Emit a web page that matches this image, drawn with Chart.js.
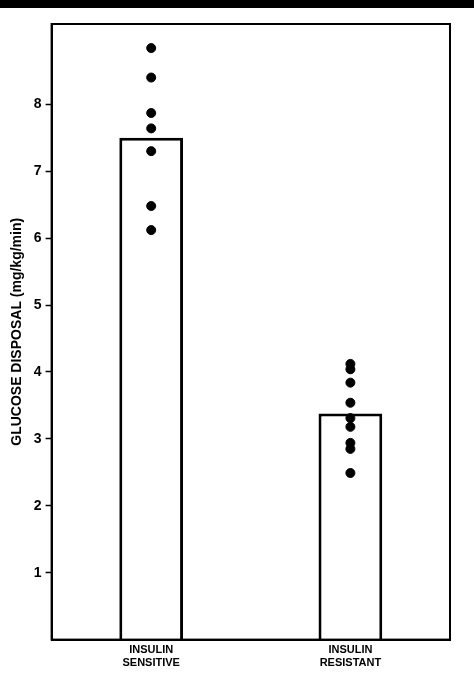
<!DOCTYPE html>
<html>
<head>
<meta charset="utf-8">
<script src="https://cdn.jsdelivr.net/npm/chart.js@4.4.0/dist/chart.umd.min.js"></script>
<style>
  body { margin: 0; background: #fff; }
  #band { position: absolute; left: 0; top: 0; width: 474px; height: 8px; background: #000; }
  #wrap { width: 474px; height: 676px; }
</style>
</head>
<body>
<div id="band"></div>
<div id="wrap"><canvas id="c"></canvas></div>
<script>
// data
const groups = ["INSULIN SENSITIVE", "INSULIN RESISTANT"];
const means = [7.5, 3.38];
const sensitivePts = [8.84, 8.40, 7.87, 7.64, 7.30, 6.48, 6.12];
const resistantPts = [4.12, 4.04, 3.84, 3.54, 3.31, 3.18, 2.94, 2.85, 2.49];
const yTicks = [1, 2, 3, 4, 5, 6, 7, 8];

// box around the plot area (top & right sides)
const frame = {
  id: "frame",
  afterDraw(chart) {
    const a = chart.chartArea, c = chart.ctx;
    c.save();
    c.strokeStyle = "#000";
    c.lineWidth = 2;
    c.strokeRect(a.left, a.top, a.right - a.left, a.bottom - a.top);
    c.restore();
  }
};

const pts = sensitivePts.map(v => ({x: groups[0], y: v}))
  .concat(resistantPts.map(v => ({x: groups[1], y: v})));

new Chart(document.getElementById("c"), {
  data: {
    labels: groups,
    datasets: [
      {
        type: "scatter",
        data: pts,
        backgroundColor: "#000",
        borderColor: "#000",
        pointRadius: 4.5,
        order: 0
      },
      {
        type: "bar",
        data: means,
        backgroundColor: "#fff",
        borderColor: "#000",
        borderWidth: 3,
        barPercentage: 0.32,
        categoryPercentage: 1,
        order: 1
      }
    ]
  },
  options: {
    responsive: true,
    maintainAspectRatio: false,
    animation: false,
    layout: { padding: { top: 24, right: 24, bottom: 2, left: 5 } },
    plugins: { legend: { display: false }, tooltip: { enabled: false } },
    scales: {
      x: {
        type: "category",
        offset: true,
        grid: { display: false, drawTicks: false },
        border: { color: "#000", width: 2 },
        ticks: {
          color: "#000", padding: 4,
          font: { family: "Liberation Sans", size: 11, weight: "bold" },
          callback(v) { return this.getLabelForValue(v).split(" "); }
        }
      },
      y: {
        min: 0,
        max: 9.2,
        afterBuildTicks(axis) { axis.ticks = yTicks.map(v => ({value: v})); },
        grid: { display: true, drawOnChartArea: false, drawTicks: true, tickLength: 6, tickColor: "#000", tickWidth: 1.5 },
        border: { color: "#000", width: 2 },
        ticks: { color: "#000", padding: 4, font: { family: "Liberation Sans", size: 14, weight: "bold" } },
        title: {
          display: true,
          text: "GLUCOSE DISPOSAL (mg/kg/min)",
          color: "#000",
          padding: { bottom: 4 },
          font: { family: "Liberation Sans", size: 14, weight: "bold" }
        }
      }
    }
  },
  plugins: [frame]
});
</script>
</body>
</html>
